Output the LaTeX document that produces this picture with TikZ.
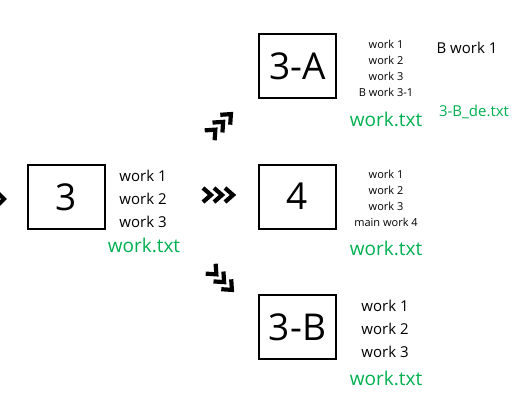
\documentclass[tikz,border=0pt]{standalone}
\usepackage{fontspec}
\setmainfont{Open Sans}
\usetikzlibrary{positioning}
\definecolor{txtgreen}{RGB}{0,176,80}
\tikzset{
  stage/.style={draw,line width=2pt,minimum width=77pt,minimum height=64pt,inner sep=0pt,font=\fontsize{37}{40}\selectfont},
  worklist/.style={align=center,inner sep=0pt,font=\fontsize{15}{23}\selectfont},
  smalllist/.style={align=center,inner sep=0pt,font=\fontsize{11}{16}\selectfont},
  txtfile/.style={text=txtgreen,inner sep=0pt,font=\fontsize{19}{22}\selectfont},
  chev/.style={line width=4.2pt,miter limit=10},
  chevrons/.pic={\foreach \i in {-11,0,11} \draw[chev] (\i-5,-7) -- (\i+3,0) -- (\i-5,7);}
}
\begin{document}
\begin{tikzpicture}[x=1pt,y=-1pt]
            \useasboundingbox (0,0) rectangle (530,401);
            \node[stage] (s3) at (66.5,197) {3};
            \node[stage] (s3a) at (297.5,66.5) {3-A};
            \node[stage] (s4) at (297.5,196.5) {4};
            \node[stage] (s3b) at (297.5,327) {3-B};
            \node[worklist] (w3) at (143,199) {work 1\\work 2\\work 3};
            \node[txtfile] (f3) at (144,245) {work.txt};
            \node[smalllist] (w3a) at (386,68) {work 1\\work 2\\work 3\\B work 3-1};
            \node[txtfile] (f3a) at (386,119) {work.txt};
            \node[worklist] (b3a) at (467,48) {B work 1};
            \node[txtfile,font=\fontsize{15}{16}\selectfont] (d3a) at (474,112) {3-B\_de.txt};
            \node[smalllist] (w4) at (386,198) {work 1\\work 2\\work 3\\main work 4};
            \node[txtfile] (f4) at (386,248) {work.txt};
            \node[worklist] (w3b) at (385,329) {work 1\\work 2\\work 3};
            \node[txtfile] (f3b) at (386,378) {work.txt};
            \draw[chev] (-4,191) -- (4,199) -- (-4,207);
            \pic[rotate=45] at (221,124) {chevrons};
            \pic at (219,195) {chevrons};
            \pic[rotate=-45] at (222,280) {chevrons};
        \end{tikzpicture}
\end{document}
